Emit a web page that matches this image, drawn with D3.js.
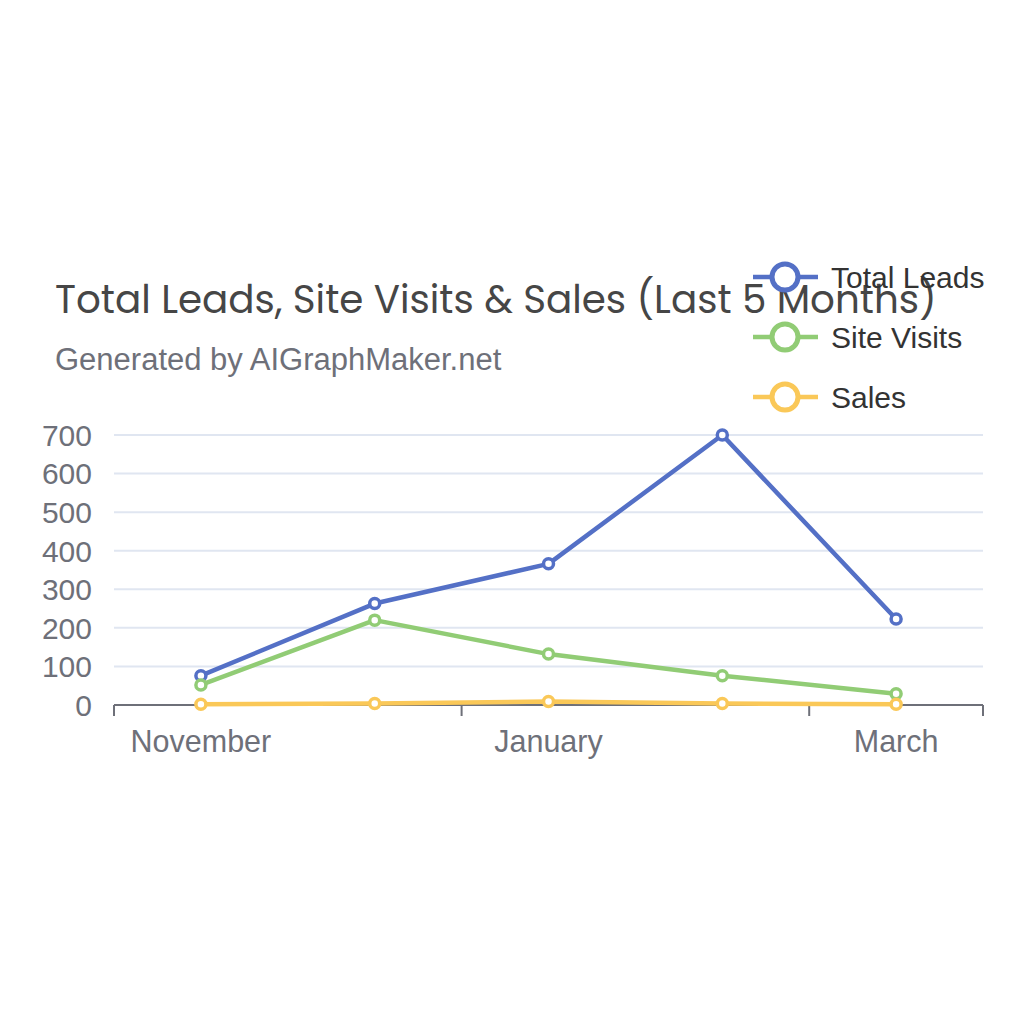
<!DOCTYPE html>
<html>
<head>
<meta charset="utf-8">
<script src="https://cdn.jsdelivr.net/npm/d3@7"></script>
<style>
  body { margin: 0; background: #fff; }
  svg { display: block; }
</style>
</head>
<body>
<div id="chart"></div>
<script>
// chart data
var months = ["November", "December", "January", "February", "March"]
var totalLeads = [76, 263, 366, 700, 223]
var siteVisits = [52, 220, 132, 76, 29]
var sales = [2, 4, 9, 4, 2]
var yTicks = [0, 100, 200, 300, 400, 500, 600, 700]

var seriesList = [
    { name: "Total Leads", values: totalLeads, color: "#5470c6" },
    { name: "Site Visits", values: siteVisits, color: "#91cc75" },
    { name: "Sales", values: sales, color: "#fac858" }
]

var width = 1024, height = 1024
var margin = { left: 114, right: 41, top: 435, bottom: 319 }

var svg = d3.select("#chart").append("svg")
    .attr("width", width)
    .attr("height", height)

var x = d3.scaleBand()
    .domain(months)
    .range([margin.left, width - margin.right])

var y = d3.scaleLinear()
    .domain([0, 700])
    .range([height - margin.bottom, margin.top])

var labelFont = "'Liberation Sans', Arial, sans-serif"

// title + subtitle
var title = svg.append("text")
    .attr("x", 55)
    .attr("y", 313)
    .style("font-family", "Poppins, 'Open Sans', sans-serif")
    .style("font-size", "34px")
    .style("fill", "#464646")
    .text("Total Leads, Site Visits & Sales (Last 5 Months)")

// stretch title to the reference width
var tw = title.node().getComputedTextLength()
title.style("font-size", (34 * 882 / tw) + "px")

svg.append("text")
    .attr("x", 55)
    .attr("y", 370)
    .style("font-family", labelFont)
    .style("font-size", "31px")
    .style("fill", "#6e7079")
    .text("Generated by AIGraphMaker.net")

// grid lines
svg.append("g")
    .selectAll("line")
    .data(yTicks.filter(d => d > 0))
    .join("line")
    .attr("x1", margin.left)
    .attr("x2", width - margin.right)
    .attr("y1", d => y(d))
    .attr("y2", d => y(d))
    .style("stroke", "#e0e6f1")
    .style("stroke-width", 2)

// y axis labels
svg.append("g")
    .selectAll("text")
    .data(yTicks)
    .join("text")
    .attr("x", 92)
    .attr("y", d => y(d))
    .attr("dy", "0.36em")
    .attr("text-anchor", "end")
    .style("font-family", labelFont)
    .style("font-size", "30px")
    .style("fill", "#6e7079")
    .text(d => d)

// x axis: ticks on every other band edge, labels on every other month
var xAxis = d3.axisBottom(x).tickSize(0).tickFormat("")
var gx = svg.append("g")
    .attr("transform", `translate(0,${y(0)})`)
    .call(xAxis)
gx.select(".domain").remove()

var edges = [0, 2, 4, 5].map(i => margin.left + i * x.step())
gx.selectAll(".edge")
    .data(edges)
    .join("line")
    .attr("class", "edge")
    .attr("x1", d => d).attr("x2", d => d)
    .attr("y1", 0).attr("y2", 11)
    .style("stroke", "#6e7079")
    .style("stroke-width", 2)

gx.append("line")
    .attr("x1", margin.left)
    .attr("x2", width - margin.right)
    .style("stroke", "#6e7079")
    .style("stroke-width", 2)

gx.selectAll(".mlabel")
    .data(months.filter((d, i) => i % 2 == 0))
    .join("text")
    .attr("class", "mlabel")
    .attr("x", d => x(d) + x.bandwidth() / 2)
    .attr("y", 47)
    .attr("text-anchor", "middle")
    .style("font-family", labelFont)
    .style("font-size", "30.5px")
    .style("fill", "#6e7079")
    .text(d => d)

// lines and points
var line = d3.line()
    .x((d, i) => x(months[i]) + x.bandwidth() / 2)
    .y(d => y(d))

seriesList.forEach(s => {
    var g = svg.append("g")
    g.append("path")
        .datum(s.values)
        .attr("d", line)
        .style("fill", "none")
        .style("stroke", s.color)
        .style("stroke-width", 4.5)
        .style("stroke-linejoin", "round")

    g.selectAll("circle")
        .data(s.values)
        .join("circle")
        .attr("cx", (d, i) => x(months[i]) + x.bandwidth() / 2)
        .attr("cy", d => y(d))
        .attr("r", 5)
        .style("fill", "#fff")
        .style("stroke", s.color)
        .style("stroke-width", 3.5)
})

// legend
var legend = svg.append("g")
    .selectAll("g")
    .data(seriesList)
    .join("g")
    .attr("transform", (d, i) => `translate(753,${277 + i * 60})`)

legend.append("line")
    .attr("x1", 0).attr("x2", 65)
    .style("stroke", d => d.color)
    .style("stroke-width", 4.5)

legend.append("circle")
    .attr("cx", 32)
    .attr("r", 13)
    .style("fill", "#fff")
    .style("stroke", d => d.color)
    .style("stroke-width", 5)

legend.append("text")
    .attr("x", 78)
    .attr("dy", "0.36em")
    .style("font-family", labelFont)
    .style("font-size", "30px")
    .style("fill", "#333")
    .text(d => d.name)
</script>
</body>
</html>
